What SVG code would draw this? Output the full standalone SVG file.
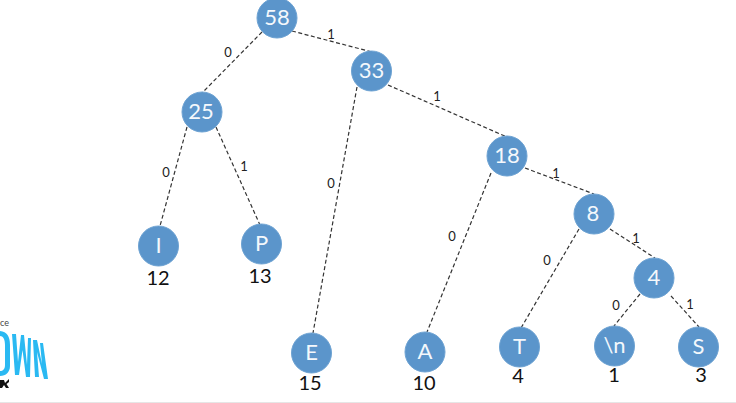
<svg xmlns="http://www.w3.org/2000/svg" width="736" height="403" viewBox="0 0 736 403">
<style>
.n{fill:#5b95cb;stroke:#6ea3d3;stroke-width:1}
.t{font-family:Lato,"Liberation Sans",sans-serif;font-size:22px;fill:#f4f8fc;text-anchor:middle}
.c{font-family:Lato,"Liberation Sans",sans-serif;font-size:20px;fill:#111;text-anchor:middle}
.e{font-family:Lato,"Liberation Sans",sans-serif;font-size:13px;fill:#222;text-anchor:middle}
#connectors line{stroke:#333;stroke-width:1.2;stroke-dasharray:4 2.500}
.l{fill:#2ab9f2}
</style>
<rect width="736" height="403" fill="#fff"/>
<rect y="402" width="736" height="1" fill="#e6e6e6"/>
<g id="logo">
<text x="0" y="326" font-family="Lato, Liberation Sans, sans-serif" font-size="9" fill="#444">ce</text>
<path class="l" d="M0 331C7 332 10 336 10 345V366C10 372 6 376 0 376V371C3 371 5 369 5 365V345C5 339 3 336 0 336Z"/>
<path class="l" d="M12 334H16L18 362L21 335H24L27 365L28 338H31L30 377H26L22.500 350L19 375H15Z"/>
<path class="l" d="M33 340H37L42 364L40 343H43L48 379H44L37 352L39 377H35Z"/>
<path fill="#111" d="M0 380H4L5 383L9 379V382L6.500 384L9 388H6L4 385L2 388H0Z"/>
</g>
<g id="connectors">
<line x1="262" y1="32" x2="202" y2="93"/>
<line x1="292" y1="31" x2="372" y2="52"/>
<line x1="388" y1="85" x2="507" y2="137"/>
<line x1="357" y1="87" x2="313" y2="333"/>
<line x1="187" y1="127" x2="160" y2="226"/>
<line x1="216" y1="127" x2="260" y2="225"/>
<line x1="525" y1="168" x2="594" y2="194"/>
<line x1="491" y1="173" x2="427" y2="332"/>
<line x1="610" y1="229" x2="655" y2="258"/>
<line x1="579" y1="229" x2="521" y2="328"/>
<line x1="640" y1="294" x2="614" y2="326"/>
<line x1="671" y1="296" x2="699" y2="327"/>
</g>
<g id="edge-labels">
<text class="e" x="228" y="57">0</text>
<text class="e" x="331" y="39">1</text>
<text class="e" x="437" y="101">1</text>
<text class="e" x="331" y="188">0</text>
<text class="e" x="166" y="177">0</text>
<text class="e" x="244" y="171">1</text>
<text class="e" x="556" y="178">1</text>
<text class="e" x="452" y="241">0</text>
<text class="e" x="636" y="243">1</text>
<text class="e" x="547" y="265">0</text>
<text class="e" x="616" y="310">0</text>
<text class="e" x="690" y="309">1</text>
</g>
<g id="n58"><circle class="n" cx="277" cy="18" r="20"/><text class="t" x="277" y="25">58</text></g>
<g id="n33"><circle class="n" cx="371.500" cy="71" r="20"/><text class="t" x="371.500" y="78">33</text></g>
<g id="n25"><circle class="n" cx="202" cy="112" r="20"/><text class="t" x="201" y="119">25</text></g>
<g id="n18"><circle class="n" cx="507" cy="156" r="20"/><text class="t" x="507" y="163">18</text></g>
<g id="n8"><circle class="n" cx="594" cy="214" r="20"/><text class="t" x="593" y="221">8</text></g>
<g id="n4"><circle class="n" cx="654" cy="278" r="20"/><text class="t" x="654" y="285">4</text></g>
<g id="nI"><circle class="n" cx="158.500" cy="246" r="20"/><text class="t" x="158.500" y="253">I</text><text class="c" x="158" y="285">12</text></g>
<g id="nP"><circle class="n" cx="261.500" cy="244" r="20"/><text class="t" x="261.500" y="251">P</text><text class="c" x="260" y="283">13</text></g>
<g id="nE"><circle class="n" cx="311.500" cy="353" r="20"/><text class="t" x="311.500" y="360">E</text><text class="c" x="310" y="390">15</text></g>
<g id="nA"><circle class="n" cx="425" cy="352" r="20"/><text class="t" x="425" y="359">A</text><text class="c" x="424" y="390">10</text></g>
<g id="nT"><circle class="n" cx="519.500" cy="347" r="20"/><text class="t" x="519.500" y="354">T</text><text class="c" x="518" y="383">4</text></g>
<g id="nn"><circle class="n" cx="614.500" cy="346" r="20"/><text class="t" x="614.500" y="353">\n</text><text class="c" x="614" y="382">1</text></g>
<g id="nS"><circle class="n" cx="698.500" cy="347" r="20"/><text class="t" x="698.500" y="354">S</text><text class="c" x="701" y="382">3</text></g>
</svg>
